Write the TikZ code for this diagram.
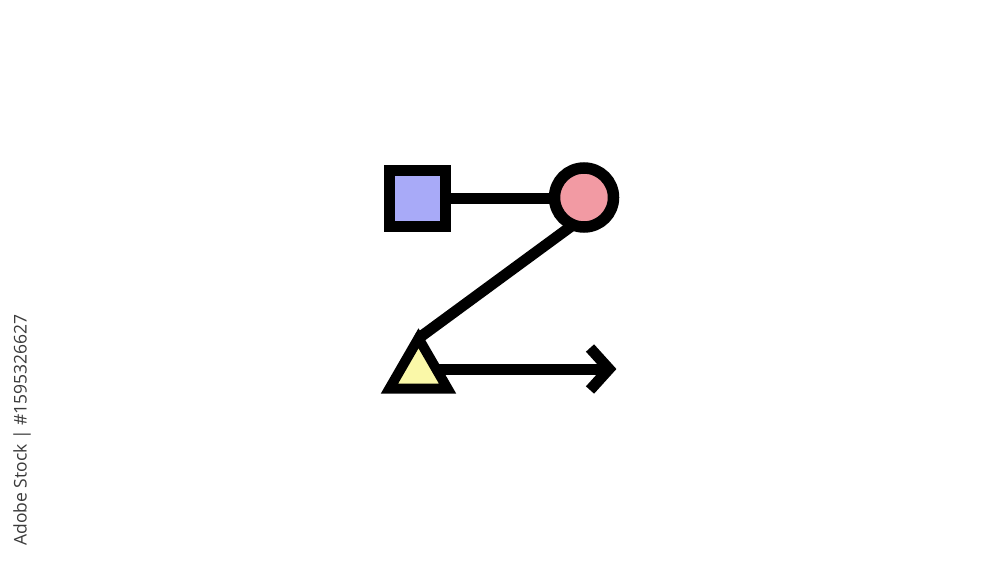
\documentclass[tikz,border=0pt]{standalone}
\usepackage{fontspec}
\newfontfamily\wmfont{Open Sans}
\definecolor{sqfill}{HTML}{A8AAF8}
\definecolor{cifill}{HTML}{F29AA3}
\definecolor{trfill}{HTML}{FAF8A8}
\definecolor{wmgray}{HTML}{3A3A3A}
\begin{document}
\begin{tikzpicture}[x=1pt,y=-1pt,
  shapeline/.style={draw=black,line width=11.5pt,inner sep=0pt,outer sep=0pt},
  conn/.style={draw=black,line width=11pt}]
\useasboundingbox[fill=white] (0,0) rectangle (1000,562);
\coordinate (sqc) at (417.5,198.5);
\coordinate (cic) at (584,197.5);
\coordinate (tl) at (389.5,388.5);
\coordinate (tr) at (447.5,388.5);
\coordinate (tapex) at (418.5,338.3);
\coordinate (a1) at (432,369);
\coordinate (aend) at (609,369);
\coordinate (ch1) at (590,348);
\coordinate (ch2) at (590,390);
\coordinate (dstart) at (577,222);
% connectors behind shapes
\draw[conn] (sqc) -- (cic |- sqc);
\draw[conn] (dstart) -- (tapex);
\draw[conn] (a1) -- (aend);
\draw[conn,line join=miter] (ch1) -- (aend) -- (ch2);
\node[shapeline,fill=sqfill,rectangle,minimum size=56pt] (sq) at (sqc) {};
\node[shapeline,fill=cifill,circle,minimum size=59pt] (ci) at (cic) {};
\filldraw[fill=trfill,draw=black,line width=10pt,line join=miter] (tl) -- (tr) -- (tapex) -- cycle;
\node[rotate=90,text=wmgray,font=\wmfont\fontsize{17.5}{20}\selectfont,inner sep=0pt] (wm) at (22,430) {Adobe Stock | \#1595326627};
\end{tikzpicture}
\end{document}
